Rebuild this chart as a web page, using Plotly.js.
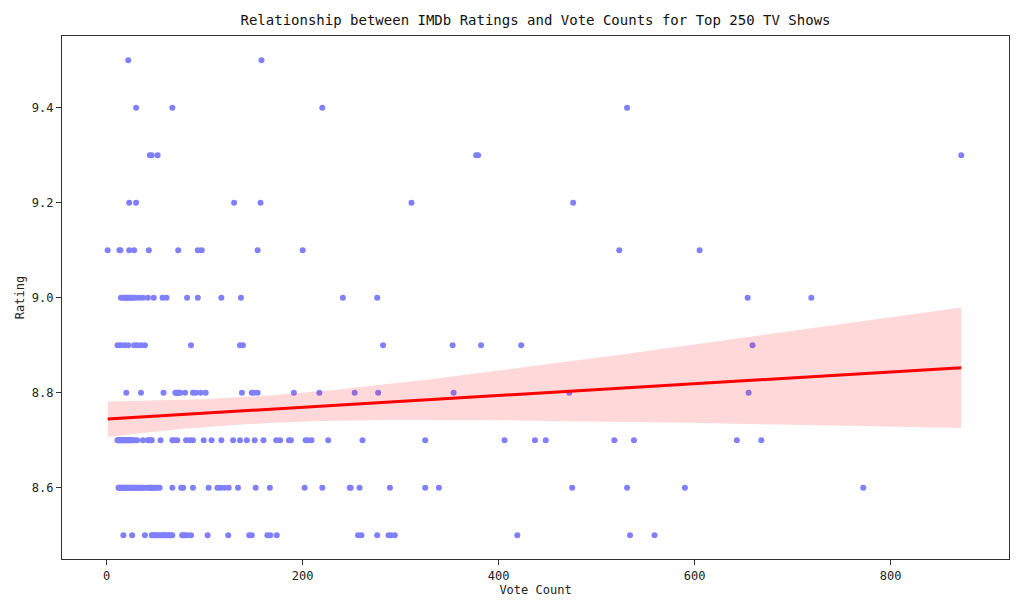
<!DOCTYPE html>
<html>
<head>
<meta charset="utf-8">
<script src="https://cdn.plot.ly/plotly-3.0.1.min.js"></script>
<style>
  html, body { margin: 0; padding: 0; background: #fff; }
  #chart { width: 1024px; height: 614px; }
</style>
</head>
<body>
<div id="chart"></div>
<script>
// vote counts, one list per rating row
const votes_9_5 = [22, 158];
const votes_9_4 = [30, 67, 220, 531];
const votes_9_3 = [44, 46, 52, 377, 379, 872];
const votes_9_2 = [23, 30, 130, 157, 311, 476];
const votes_9_1 = [1, 13, 14, 23, 28, 43, 73, 93, 97, 154, 200, 523, 605];
const votes_9_0 = [14.5, 17, 19, 20, 21, 23, 24, 25, 27, 29, 33, 37, 42, 48, 57, 61, 82, 93, 117, 137, 241, 276, 654, 719];
const votes_8_9 = [11, 14, 18, 22, 28, 31, 35, 39, 86, 136, 139, 282, 353, 382, 423, 659];
const votes_8_8 = [20, 35, 58, 70, 71, 72, 73, 74, 75, 80, 88, 91, 96, 101, 138, 148, 150, 154, 191, 217, 253, 277, 354, 472, 655];
const votes_8_7 = [11, 12, 12.5, 13, 14, 15, 15.5, 16.5, 17, 18, 19, 20, 21, 22, 23, 24, 25, 26, 28, 31, 37, 42, 43, 45, 46, 55,
                   67, 69, 72, 81, 85, 88, 99, 107, 117, 129, 136, 143, 151, 160, 173, 177, 186, 188, 203, 205, 209, 226, 261,
                   325, 406, 437, 448, 518, 538, 643, 668];
const votes_8_6 = [12, 13, 13.5, 14, 15, 16, 17, 18.6, 19, 20, 21, 22, 23.6, 24, 25, 26, 27, 28, 30, 31, 33, 33.5, 35.5, 36, 38,
                   40.6, 43, 44, 45, 46, 47, 49, 50, 52, 54, 67, 76, 78, 88, 104, 113, 116, 120, 124.5, 134, 152, 166.5, 202,
                   220, 248, 249, 258, 289, 325, 339, 475, 531, 590, 772];
const votes_8_5 = [17, 26, 39, 46, 47, 49, 50, 52, 54, 56.5, 58, 59, 60, 62, 64, 65, 67, 77, 78, 79.5, 82, 86, 103, 124, 145.5,
                   148, 164, 167, 173.5, 256.5, 260, 276, 287.6, 290, 294, 419, 534, 559];

const ratingRows = [
  [9.5, votes_9_5], [9.4, votes_9_4], [9.3, votes_9_3], [9.2, votes_9_2], [9.1, votes_9_1],
  [9.0, votes_9_0], [8.9, votes_8_9], [8.8, votes_8_8], [8.7, votes_8_7], [8.6, votes_8_6], [8.5, votes_8_5]
];

const xTicks = [0, 200, 400, 600, 800];
const yTicks = [8.6, 8.8, 9.0, 9.2, 9.4];

let X = [], Y = [];
for (const [r, list] of ratingRows) {
  for (const v of list) { X.push(v); Y.push(r); }
}

// ordinary least squares with a 95% band for the mean, like regplot does
function fit_line(X, Y, steps) {
  const n = X.length;
  const mx = X.reduce((a, b) => a + b, 0) / n;
  const my = Y.reduce((a, b) => a + b, 0) / n;
  let sxx = 0, sxy = 0;
  for (let i = 0; i < n; i++) {
    sxx += (X[i] - mx) * (X[i] - mx);
    sxy += (X[i] - mx) * (Y[i] - my);
  }
  const b = sxy / sxx, a = my - b * mx;
  let sse = 0;
  for (let i = 0; i < n; i++) sse += Math.pow(Y[i] - (a + b * X[i]), 2);
  const s = Math.sqrt(sse / (n - 2));
  const t = 1.97;
  const lo = Math.min(...X), hi = Math.max(...X);
  let gx = [], gy = [], up = [], dn = [];
  for (let k = 0; k < steps; k++) {
    const x = lo + (hi - lo) * k / (steps - 1);
    const yhat = a + b * x;
    const se = s * Math.sqrt(1 / n + Math.pow(x - mx, 2) / sxx);
    gx.push(x); gy.push(yhat); up.push(yhat + t * se); dn.push(yhat - t * se);
  }
  return {gx, gy, up, dn};
}

const fit = fit_line(X, Y, 100);

let points = {
  x: X,
  y: Y,
  mode: 'markers',
  type: 'scatter',
  marker: {size: 6, color: 'rgb(128,128,255)', line: {width: 0}},
  hoverinfo: 'x+y',
};
let band = {
  x: fit.gx.concat(fit.gx.slice().reverse()),
  y: fit.dn.concat(fit.up.slice().reverse()),
  fill: 'toself',
  fillcolor: 'rgba(255,0,0,0.15)',
  type: 'scatter',
  mode: 'lines',
  line: {color: 'transparent', width: 0},
  hoverinfo: 'skip',
};
let line = {
  x: fit.gx,
  y: fit.gy,
  type: 'scatter',
  mode: 'lines',
  line: {color: 'rgb(255,0,0)', width: 3},
};

const axisFont = {family: 'DejaVu Sans Mono', size: 12, color: '#222'};

let layout = {
  width: 1024,
  height: 614,
  margin: {l: 62, r: 15, t: 36, b: 55},
  paper_bgcolor: '#fff',
  plot_bgcolor: '#fff',
  showlegend: false,
  font: {family: 'DejaVu Sans Mono', color: '#222'},
  title: {
    text: 'Relationship between IMDb Ratings and Vote Counts for Top 250 TV Shows',
    font: {family: 'DejaVu Sans Mono', size: 14, color: '#111'},
    xref: 'paper', x: 0.5, xanchor: 'center',
    yref: 'container', y: 0.967, yanchor: 'middle',
  },
  xaxis: {
    range: [-45.6, 920.7],
    tickvals: xTicks,
    ticktext: xTicks.map(String),
    ticks: 'outside', ticklen: 5, tickcolor: '#333',
    showgrid: false, zeroline: false,
    showline: true, mirror: true, linecolor: '#333', linewidth: 1.2,
    tickfont: axisFont,
    title: {text: 'Vote Count', font: axisFont, standoff: 2},
  },
  yaxis: {
    range: [8.45, 9.551],
    tickvals: yTicks,
    ticktext: yTicks.map(v => v.toFixed(1)),
    ticks: 'outside', ticklen: 5, tickcolor: '#333',
    showgrid: false, zeroline: false,
    showline: true, mirror: true, linecolor: '#333', linewidth: 1.2,
    tickfont: axisFont,
    title: {text: 'Rating', font: axisFont, standoff: 4},
  },
};

Plotly.newPlot('chart', [points, band, line], layout, {staticPlot: true});
</script>
</body>
</html>
